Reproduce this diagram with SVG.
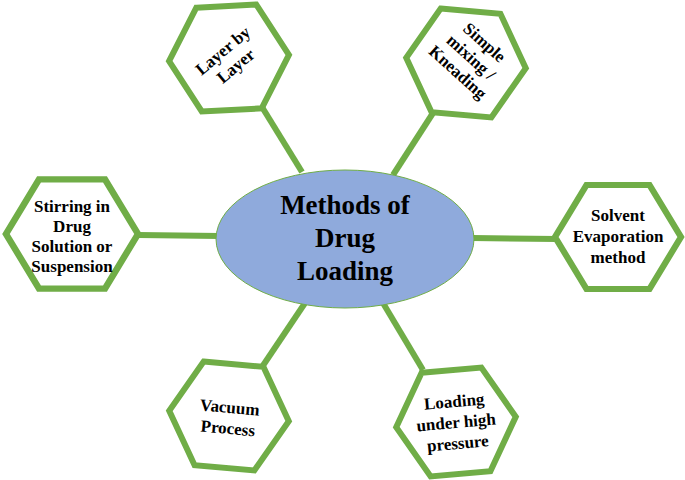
<svg xmlns="http://www.w3.org/2000/svg" width="685" height="480" viewBox="0 0 685 480">
<style>
.hex{fill:#fff;stroke:#70ad47;stroke-width:6;stroke-linejoin:miter}
.c{stroke:#70ad47;stroke-width:6;fill:none}
text{font-family:"Liberation Serif",serif;font-weight:bold;fill:#000;text-anchor:middle}
.t{font-size:17px}
</style>
<defs><polygon id="hx" points="-30,-52 30,-52 60,0 30,52 -30,52 -60,0"/></defs>
<g id="connectors">
<line class="c" x1="262" y1="107" x2="302" y2="172"/>
<line class="c" x1="433" y1="113" x2="393" y2="175"/>
<line class="c" x1="138" y1="235" x2="220" y2="236"/>
<line class="c" x1="472" y1="238" x2="557" y2="239"/>
<line class="c" x1="262" y1="367" x2="305" y2="303"/>
<line class="c" x1="423" y1="370" x2="383" y2="303"/>
</g>
<g id="center">
<ellipse cx="345" cy="239" rx="129" ry="69" fill="#8faadc" stroke="#70ad47" stroke-width="1"/>
<text font-size="27" x="345" y="214">Methods of</text>
<text font-size="27" x="345" y="247">Drug</text>
<text font-size="27" x="345" y="280">Loading</text>
</g>
<g id="n1" transform="translate(229,58) rotate(-3)">
<use href="#hx" class="hex" transform="scale(1,1)"/>
<g transform="rotate(-37)"><text class="t" x="0" y="-4">Layer by</text><text class="t" x="0" y="16">Layer</text></g>
</g>
<g id="n2" transform="translate(466,63) rotate(5)">
<use href="#hx" class="hex"/>
<g transform="rotate(37)"><text class="t" x="0" y="-22">Simple</text><text class="t" x="0" y="-2">mixing /</text><text class="t" x="0" y="18">Kneading</text></g>
</g>
<g id="n3" transform="translate(72,234)">
<use href="#hx" class="hex" transform="scale(1.1,1.05)"/>
<text class="t" x="0" y="-22">Stirring in</text><text class="t" x="0" y="-2">Drug</text><text class="t" x="0" y="18">Solution or</text><text class="t" x="0" y="38">Suspension</text>
</g>
<g id="n4" transform="translate(618,237)">
<use href="#hx" class="hex" transform="scale(1.05,1)"/>
<text class="t" x="0" y="-16">Solvent</text><text class="t" x="0" y="5">Evaporation</text><text class="t" x="0" y="26">method</text>
</g>
<g id="n5" transform="translate(229,416) rotate(5)">
<use href="#hx" class="hex"/>
<text class="t" x="0" y="-3">Vacuum</text><text class="t" x="0" y="18">Process</text>
</g>
<g id="n6" transform="translate(456,422) rotate(-5)">
<use href="#hx" class="hex"/>
<text class="t" x="0" y="-15">Loading</text><text class="t" x="0" y="6">under high</text><text class="t" x="0" y="27">pressure</text>
</g>
</svg>
